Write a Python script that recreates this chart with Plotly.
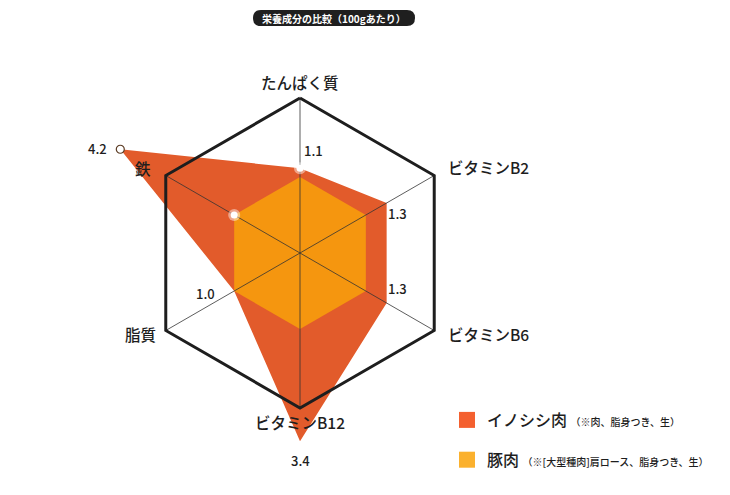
import math
import plotly.graph_objects as go

# Data (ratio vs. pork = 1.0)
categories = ["たんぱく質", "ビタミンB2", "ビタミンB6", "ビタミンB12", "脂質", "鉄"]
boar = [1.1, 1.3, 1.3, 3.4, 1.0, 4.2]
pork = [1.0, 1.0, 1.0, 1.0, 1.0, 1.0]

boar_name = "イノシシ肉"
boar_note = "（※肉、脂身つき、生）"
pork_name = "豚肉"
pork_note = "（※[大型種肉]肩ロース、脂身つき、生）"
title_text = "栄養成分の比較（100gあたり）"

# Layout helpers (pixels as seen in the page; body has an 8px margin)
W, H = 730, 495
OFF = 8
CX, CY = 300, 253          # centre of the radar
R_PX = 215                 # polar radius in px
FRAME_PX = 155             # outer hexagon
PX_AT_ONE = 76             # where value 1.0 lands
PX_PER_DECADE = 211        # log radial axis
LOG_MIN = -PX_AT_ONE / PX_PER_DECADE
LOG_MAX = (R_PX - PX_AT_ONE) / PX_PER_DECADE


def r_at(px):
    # radial value sitting px pixels from the centre
    return 10 ** ((px - PX_AT_ONE) / PX_PER_DECADE)


def dist(v):
    return PX_AT_ONE + PX_PER_DECADE * math.log10(v)


def spoke_xy(i, d):
    a = math.radians(90 - i * 360 / len(categories))
    return CX + d * math.cos(a), CY - d * math.sin(a)


def paper(x, y):
    return (x - OFF) / W, 1 - (y - OFF) / H


FONT = "Noto Sans CJK JP"
BOAR_C = "#E25B2B"
PORK_C = "#F5960F"
BOAR_LEG = "#F4602F"
PORK_LEG = "#FBB12E"
INK = "#1e1e1e"

closed = categories + categories[:1]

fig = go.Figure()

# filled areas
fig.add_trace(go.Scatterpolar(r=boar + boar[:1], theta=closed, mode="lines",
                              fill="toself", fillcolor=BOAR_C, line=dict(width=0, color=BOAR_C),
                              showlegend=False, hoverinfo="skip"))
fig.add_trace(go.Scatterpolar(r=pork + pork[:1], theta=closed, mode="lines",
                              fill="toself", fillcolor=PORK_C, line=dict(width=0, color=PORK_C),
                              showlegend=False, hoverinfo="skip"))

# spokes
for cat in categories:
    fig.add_trace(go.Scatterpolar(r=[10 ** LOG_MIN, r_at(FRAME_PX)], theta=[cat, cat], mode="lines",
                                  line=dict(color="#333333", width=0.8),
                                  showlegend=False, hoverinfo="skip"))

# outer hexagon frame
fig.add_trace(go.Scatterpolar(r=[r_at(FRAME_PX)] * 7, theta=closed, mode="lines",
                              line=dict(color=INK, width=3),
                              showlegend=False, hoverinfo="skip"))

# white dots
fig.add_trace(go.Scatterpolar(r=[boar[0], pork[5]], theta=[categories[0], categories[5]],
                              mode="markers",
                              marker=dict(color="rgba(255,255,255,0.45)", size=12, line=dict(width=0)),
                              showlegend=False, hoverinfo="skip"))
fig.add_trace(go.Scatterpolar(r=[boar[0], pork[5]], theta=[categories[0], categories[5]],
                              mode="markers", marker=dict(color="white", size=7, line=dict(width=0)),
                              showlegend=False, hoverinfo="skip"))
fig.add_trace(go.Scatterpolar(r=[boar[5]], theta=[categories[5]], mode="markers",
                              marker=dict(color="white", size=8, line=dict(color="#5a3a22", width=1.2)),
                              showlegend=False, hoverinfo="skip"))

# legend entries
for name, note, col, grp in [(boar_name, boar_note, BOAR_LEG, "a"), (pork_name, pork_note, PORK_LEG, "b")]:
    fig.add_trace(go.Scatterpolar(r=[None], theta=[None], mode="markers",
                                  marker=dict(symbol="square", size=16, color=col),
                                  name=f'{name} <span style="font-size:10px">{note}</span>',
                                  legendgroup=grp))

annotations = []

# value labels: offsets (dx, dy) from the boar point, screen-down
val_off = [(13, -18), (11, 11), (11, -15), (0, 19), (-29, 2), (-23, -1)]
for i, v in enumerate(boar):
    x, y = paper(*spoke_xy(i, dist(v)))
    dx, dy = val_off[i]
    annotations.append(dict(text=f"{v:.1f}", x=x, y=y, xref="paper", yref="paper",
                            xshift=dx, yshift=-dy, xanchor="center", yanchor="middle",
                            showarrow=False,
                            font=dict(family=FONT, size=13, color=INK, weight=500)))

# category labels around the frame
lab_style = [("center", 0, -16), ("left", 12, -9), ("left", 12, 3),
             ("center", 0, 14), ("right", -8, 3), ("right", -13, -8)]
for i, cat in enumerate(categories):
    x, y = paper(*spoke_xy(i, FRAME_PX))
    xa, dx, dy = lab_style[i]
    annotations.append(dict(text=cat, x=x, y=y, xref="paper", yref="paper",
                            xshift=dx, yshift=-dy, xanchor=xa, yanchor="middle",
                            showarrow=False,
                            font=dict(family=FONT, size=15.5, color=INK, weight=500)))

# title pill
x0, x1, y0, y1 = 253, 415, 10, 26
rad = (y1 - y0) / 2
ym = (y0 + y1) / 2


def pp(x, y):
    px_, py_ = paper(x, y)
    return f"{px_:.5f},{py_:.5f}"


pill = (f"M{pp(x0 + rad, y0)} L{pp(x1 - rad, y0)} Q{pp(x1, y0)} {pp(x1, ym)} "
        f"Q{pp(x1, y1)} {pp(x1 - rad, y1)} L{pp(x0 + rad, y1)} "
        f"Q{pp(x0, y1)} {pp(x0, ym)} Q{pp(x0, y0)} {pp(x0 + rad, y0)} Z")
tx, ty = paper((x0 + x1) / 2, ym)
annotations.append(dict(text=f"<b>{title_text}</b>", x=tx, y=ty, xref="paper", yref="paper",
                        xanchor="center", yanchor="middle", showarrow=False,
                        font=dict(family=FONT, size=10, color="white")))

lx, ly = paper(447, 403)
fig.update_layout(
    width=W, height=H,
    margin=dict(l=0, r=0, t=0, b=0),
    paper_bgcolor="white",
    font=dict(family=FONT, color=INK),
    polar=dict(
        domain=dict(x=[(CX - OFF - R_PX) / W, (CX - OFF + R_PX) / W],
                    y=[1 - (CY - OFF + R_PX) / H, 1 - (CY - OFF - R_PX) / H]),
        bgcolor="rgba(0,0,0,0)",
        radialaxis=dict(type="log", range=[LOG_MIN, LOG_MAX], visible=False, showgrid=False),
        angularaxis=dict(type="category", categoryarray=categories, rotation=90,
                         direction="clockwise", showline=False, showgrid=False,
                         showticklabels=False, ticks=""),
    ),
    shapes=[dict(type="path", xref="paper", yref="paper", path=pill,
                 fillcolor="#1f1f1f", line=dict(width=0))],
    annotations=annotations,
    legend=dict(x=lx, y=ly, xanchor="left", yanchor="top",
                font=dict(family=FONT, size=16, color=INK, weight=500), tracegroupgap=16,
                bgcolor="rgba(0,0,0,0)"),
)

fig.write_html("out.html")
